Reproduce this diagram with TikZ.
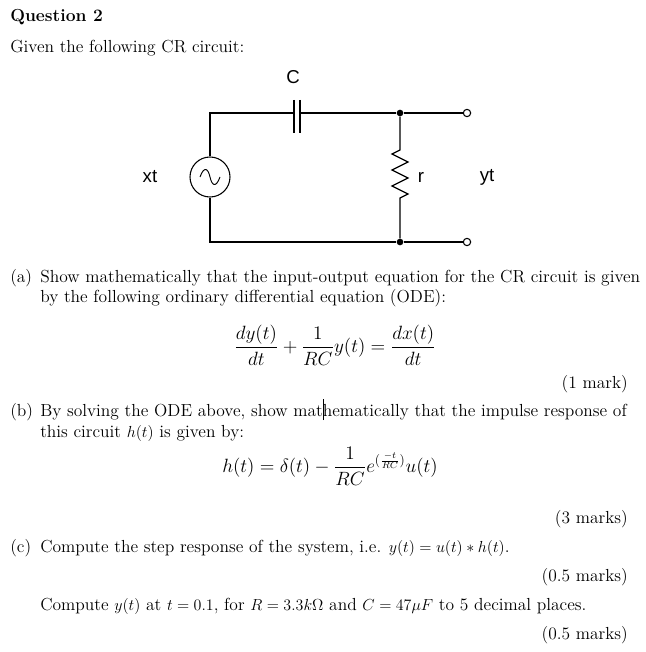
\documentclass[tikz,border=0pt]{standalone}
\usepackage{fontspec}
\newfontfamily\arial{Liberation Sans}
\begin{document}
\begin{tikzpicture}[x=0.75pt,y=-0.75pt,
  txt/.style={anchor=base west,inner sep=0pt,font=\fontsize{13.1}{15}\selectfont},
  rtxt/.style={anchor=base east,inner sep=0pt,font=\fontsize{13.1}{15}\selectfont},
  eq/.style={inner sep=0pt,font=\fontsize{14.6}{17}\selectfont},
  lab/.style={inner sep=0pt,font=\arial\fontsize{14}{16}\selectfont},
  wire/.style={line width=0.9pt},
  dot/.style={circle,fill=black,inner sep=0pt,minimum size=5pt},
  term/.style={circle,draw,fill=white,line width=0.8pt,inner sep=0pt,minimum size=5.5pt}]
\useasboundingbox (0,0) rectangle (645,652);
\fill[white] (0,0) rectangle (645,652);
\node[txt,font=\bfseries\fontsize{13.1}{15}\selectfont] (q) at (10,22) {Question 2};
\node[txt] (g) at (10,53) {Given the following CR circuit:};
% circuit
\coordinate (tl) at (210,113);
\coordinate (bl) at (210,242);
\node[dot] (nt) at (400,113) {};
\node[dot] (nb) at (400,242) {};
\node[term] (tt) at (467,113) {};
\node[term] (tb) at (467,242) {};
\node[circle,draw,line width=0.8pt,minimum size=30pt,inner sep=0pt] (src) at (210,177) {};
\draw[wire] (src.north) -- (tl) -- (294,113);
\draw[wire] (294,100) -- (294,133) (300,100) -- (300,133);
\draw[wire] (300,113) -- (nt) -- (tt);
\draw[wire] (src.south) -- (bl) -- (nb) -- (tb);
\draw[wire] (nt) -- (400,150) -- (392,154) -- (408,162) -- (392,170) -- (408,178) -- (392,186) -- (408,194) -- (400,198) -- (nb);
\draw[line width=0.7pt] (200,177) .. controls (204,166) and (208,168) .. (210,177) .. controls (212,186) and (216,188) .. (220,177);
\node[lab] (lc) at (293,77) {C};
\node[lab] (lxt) at (150,177) {xt};
\node[lab] (lr) at (421,177) {r};
\node[lab] (lyt) at (487,177) {yt};
% part a
\node[txt] (a) at (10,282) {(a)};
\node[txt] (a1) at (40,282) {Show mathematically that the input-output equation for the CR circuit is given};
\node[txt] (a2) at (40,302) {by the following ordinary differential equation (ODE):};
\node[eq] (e1) at (335,345) {$\displaystyle \frac{dy(t)}{dt}+\frac{1}{RC}y(t)=\frac{dx(t)}{dt}$};
\node[rtxt] (m1) at (628,388) {(1 mark)};
\node[txt] (b) at (10,416) {(b)};
\node[txt] (b1) at (40,416) {By solving the ODE above, show mat\makebox[0pt]{\rule[-3pt]{0.5pt}{16pt}}hematically that the impulse response of};
\node[txt] (b2) at (40,437) {this circuit $h(t)$ is given by:};
\node[eq] (e2) at (330,466) {$\displaystyle h(t)=\delta(t)-\frac{1}{RC}e^{(\frac{-t}{RC})}u(t)$};
\node[rtxt] (m3) at (628,523) {(3 marks)};
\node[txt] (c) at (10,552) {(c)};
\node[txt] (c1) at (40,552) {Compute the step response of the system, i.e. $y(t)=u(t)*h(t)$.};
\node[rtxt] (m4) at (628,581) {(0.5 marks)};
\node[txt] (c2) at (40,610) {Compute $y(t)$ at $t=0.1$, for $R=3.3k\Omega$ and $C=47\mu F$ to 5 decimal places.};
\node[rtxt] (m5) at (628,639) {(0.5 marks)};
\end{tikzpicture}
\end{document}
